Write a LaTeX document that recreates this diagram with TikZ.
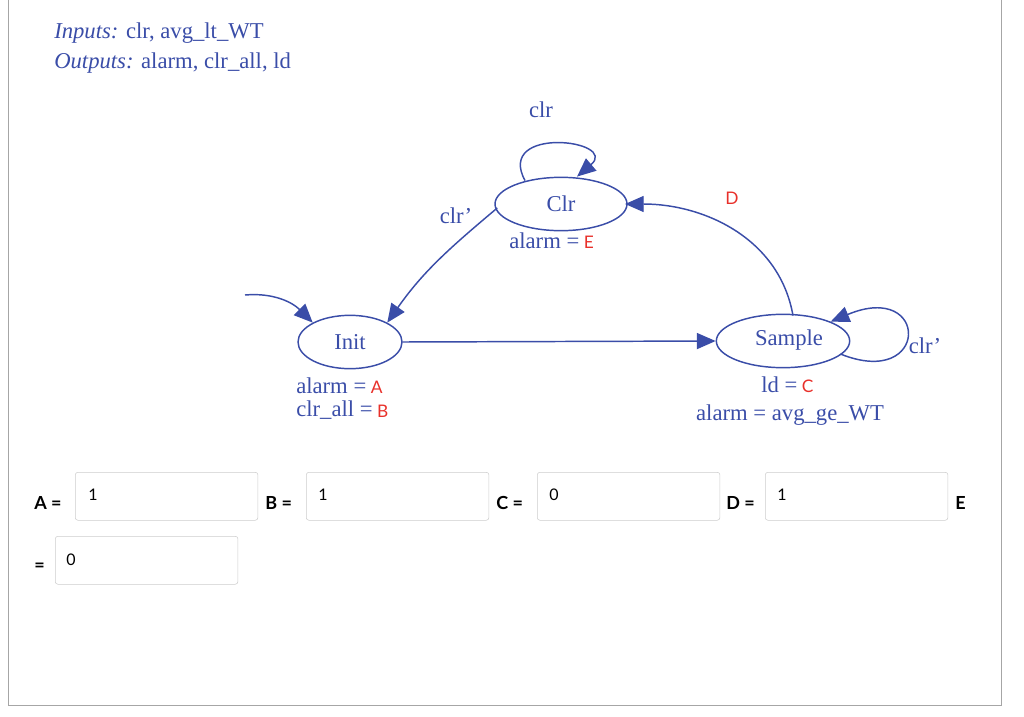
\documentclass[tikz,border=0pt]{standalone}
\usepackage{fontspec}
\setmainfont{Liberation Serif}
\newfontfamily\uifont{Lato}
\usetikzlibrary{arrows.meta,shapes.geometric}
\definecolor{dblue}{HTML}{3A4DA8}
\definecolor{lred}{HTML}{E8302A}
\begin{document}
\begin{tikzpicture}[x=0.75pt,y=-0.75pt,
  st/.style={draw=dblue,line width=1.1pt,ellipse,inner sep=0pt},
  tx/.style={text=dblue,font=\fontsize{17}{17}\selectfont,inner sep=0pt},
  rd/.style={text=lred,font=\uifont\fontsize{13}{13}\selectfont,inner sep=0pt},
  ed/.style={draw=dblue,line width=1.1pt,-{Triangle[length=14pt,width=12pt]}},
  box/.style={draw=black!20,rounded corners=2pt,minimum width=137pt,minimum height=36pt,anchor=north west,inner sep=0pt},
  lab/.style={font=\uifont\bfseries\fontsize{13.5}{13.5}\selectfont,inner sep=0pt},
  val/.style={font=\uifont\fontsize{12}{12}\selectfont,inner sep=0pt}]
\useasboundingbox (0,0) rectangle (1024,717);
\draw[black!35] (8,-2) -- (8,705) -- (1001,705) -- (1001,-2);
\node[tx,anchor=west] (in) at (54,33) {\textit{Inputs:} clr, avg\_lt\_WT};
\node[tx,anchor=west] (out) at (54,63) {\textit{Outputs:} alarm, clr\_all, ld};
% states
\node[st,minimum width=99pt,minimum height=40pt] (clr) at (561,204) {};
\node[tx] at (561,204) {Clr};
\node[st,minimum width=78pt,minimum height=40pt] (init) at (350,342) {};
\node[tx] at (350,342) {Init};
\node[st,minimum width=100pt,minimum height=40pt] (samp) at (783,341) {};
\node[tx] at (789,340) {Sample};
% outputs
\node[tx,anchor=west] (ca) at (509,241) {alarm =};
\node[rd,anchor=west] at ([xshift=3pt,yshift=-1pt]ca.east) {E};
\node[tx,anchor=west] (ia) at (296,386) {alarm =};
\node[rd,anchor=west] at ([xshift=3pt,yshift=-1pt]ia.east) {A};
\node[tx,anchor=west] (ib) at (296,410) {clr\_all =};
\node[rd,anchor=west] at ([xshift=3pt,yshift=-1pt]ib.east) {B};
\node[tx,anchor=west] (sl) at (761,385) {ld =};
\node[rd,anchor=west] at ([xshift=3pt,yshift=-1pt]sl.east) {C};
\node[tx] (sa) at (790,415) {alarm = avg\_ge\_WT};
% transitions
\coordinate (start) at (245,295);
\draw[ed] (start) to[out=5,in=135] (init.north west);
\draw[ed] (init.east) -- (samp.west);
\draw[ed] (clr.west) ++(3,4) to[out=220,in=55] (init.north east);
\node[tx] at (456,216) {clr’};
\draw[ed] (samp.north) ++(10,2) to[out=100,in=0] ([xshift=-2pt]clr.east);
\node[rd] at (732,198) {D};
\draw[ed] (clr.north) ++(-36,4) .. controls (495,125) and (620,140) .. ([xshift=12pt]clr.north);
\node[tx] at (541,110) {clr};
\draw[ed] (samp.east) ++(-10,13) .. controls (930,390) and (930,280) .. (samp.north east);
\node[tx] at (925,346) {clr’};
% form
\node[lab,anchor=west] at (34,503) {A =};
\node[box] (ba) at (75,472) {};
\node[val,anchor=west] at (88,495) {1};
\node[lab,anchor=west] at (265,503) {B =};
\node[box] (bb) at (306,472) {};
\node[val,anchor=west] at (318,495) {1};
\node[lab,anchor=west] at (496,503) {C =};
\node[box] (bc) at (537,472) {};
\node[val,anchor=west] at (549,495) {0};
\node[lab,anchor=west] at (726,503) {D =};
\node[box] (bd) at (765,472) {};
\node[val,anchor=west] at (777,495) {1};
\node[lab,anchor=west] at (955,503) {E};
\node[lab,anchor=west] at (34,567) {=};
\node[box] (be) at (55,536) {};
\node[val,anchor=west] at (66,560) {0};
\end{tikzpicture}
\end{document}
